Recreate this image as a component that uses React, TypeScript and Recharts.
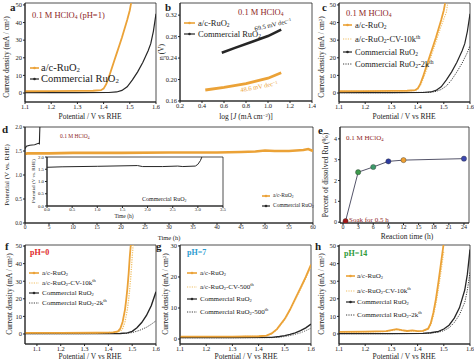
import React from 'react';
import { LineChart, Line, XAxis, YAxis, ReferenceArea } from 'recharts';

const SERIF = '"Liberation Serif", "DejaVu Serif", serif';
const ORANGE = '#EBA237';
const ORANGE_LT = '#F0C067';
const BLACK = '#262626';
const MAROON = '#8E2525';

// a / c : LSV in 0.1 M HClO4
const aOrgX = [1.1, 1.2, 1.3, 1.36, 1.39, 1.4, 1.41, 1.42, 1.43, 1.44, 1.45, 1.46, 1.47, 1.48, 1.49, 1.5, 1.505];
const aOrgY = [1.0, 1.1, 1.2, 1.3, 1.6, 2.5, 5, 9, 13.5, 18, 22.5, 27, 31.5, 36.5, 41.5, 47, 51];
const aComX = [1.1, 1.3, 1.42, 1.45, 1.47, 1.49, 1.51, 1.53, 1.55, 1.57, 1.58, 1.59, 1.6];
const aComY = [0.2, 0.2, 0.3, 0.6, 1.5, 3.5, 7.5, 12, 17.5, 24, 28, 35, 45];
const cCvX = [1.1, 1.3, 1.39, 1.4, 1.41, 1.42, 1.43, 1.44, 1.45, 1.46, 1.47, 1.48, 1.49, 1.5, 1.51, 1.515];
const cCvY = [1.0, 1.1, 1.4, 2, 4, 7.5, 11.5, 15.5, 20, 24.5, 29, 33.5, 38, 42, 46, 51];
const cCom2kX = [1.1, 1.3, 1.45, 1.47, 1.49, 1.51, 1.53, 1.55, 1.57, 1.59, 1.6];
const cCom2kY = [0.2, 0.2, 0.4, 0.9, 2, 4, 7.5, 12, 17, 23, 27];

// b : Tafel
const bOrgX = [0.43, 0.6, 0.8, 1.0, 1.12];
const bOrgY = [0.1805, 0.1855, 0.1925, 0.2025, 0.2125];
const bComX = [0.58, 0.7, 0.85, 1.0, 1.12];
const bComY = [0.25, 0.259, 0.27, 0.281, 0.293];

// d : chronopotentiometry
const dOrgT = [0, 0.5, 5, 10, 20, 30, 40, 45, 48, 50, 52, 55, 58, 59, 60];
const dOrgV = [1.44, 1.45, 1.45, 1.46, 1.46, 1.47, 1.47, 1.48, 1.49, 1.51, 1.5, 1.5, 1.52, 1.54, 1.5];
const dComT = [0, 0.3, 1, 2, 2.8, 3.0, 3.05, 3.1];
const dComV = [1.55, 1.6, 1.62, 1.63, 1.66, 1.65, 1.85, 2.0];
const insetT = [0, 0.3, 1, 1.8, 1.9, 2.3, 2.6, 2.7, 2.95, 3.0, 3.05, 3.08];
const insetV = [1.58, 1.6, 1.62, 1.65, 1.61, 1.61, 1.63, 1.61, 1.63, 1.7, 1.85, 2.0];

// e : dissolved Ru
const eTime = [0.5, 3, 6, 9, 12, 24];
const eRu = [0.05, 2.4, 2.65, 2.92, 2.98, 3.05];
const eDotColors = ['#A01818', '#3C9A4C', '#3C9A6A', '#2C3AA0', '#F0A030', '#3C48B0'];

// f : pH 0
const fOrgX = [1.05, 1.2, 1.35, 1.42, 1.44, 1.45, 1.46, 1.47, 1.475, 1.48, 1.485, 1.49, 1.495];
const fOrgY = [0.6, 0.6, 0.7, 0.9, 1.5, 3, 7, 14, 19.5, 26, 34, 44, 52];
const fCvX = [1.05, 1.2, 1.35, 1.43, 1.45, 1.46, 1.47, 1.48, 1.485, 1.49, 1.495, 1.5, 1.505];
const fCvY = [0.6, 0.6, 0.7, 0.9, 1.5, 3, 7, 14, 19.5, 26, 34, 44, 52];
const fComX = [1.05, 1.3, 1.45, 1.48, 1.5, 1.52, 1.54, 1.56, 1.58, 1.6];
const fComY = [0.2, 0.2, 0.3, 0.6, 1.5, 3.5, 6.5, 10.5, 16, 24];
const fCom2kX = [1.05, 1.3, 1.47, 1.5, 1.53, 1.56, 1.58, 1.6];
const fCom2kY = [0.2, 0.2, 0.3, 0.8, 2, 3.8, 5.5, 7.5];

// g : pH 7
const gX = [1.1, 1.2, 1.3, 1.4, 1.43, 1.45, 1.47, 1.5, 1.52, 1.54, 1.56, 1.58, 1.6];
const gOrgY = [0.8, 0.8, 0.8, 0.9, 1.1, 1.8, 3.2, 6.5, 9.5, 13, 16.5, 20, 24];
const gCvY = [0.8, 0.8, 0.8, 0.9, 1.1, 1.7, 3.0, 6.2, 9.2, 12.6, 16, 19.5, 23.2];
const gComX = [1.1, 1.3, 1.45, 1.48, 1.5, 1.52, 1.54, 1.56, 1.58, 1.6];
const gComY = [0.5, 0.5, 0.55, 0.8, 1.1, 1.5, 2.0, 2.7, 3.6, 4.8];
const gCom500Y = [0.4, 0.4, 0.45, 0.6, 0.8, 1.1, 1.5, 2.0, 2.7, 3.5];

// h : pH 14
const hOrgX = [1.1, 1.2, 1.28, 1.3, 1.32, 1.34, 1.36, 1.38, 1.4, 1.42, 1.44, 1.45, 1.46, 1.47, 1.48, 1.49, 1.5];
const hOrgY = [1.2, 1.3, 1.6, 2.2, 2.8, 2.2, 1.7, 2.0, 1.6, 1.8, 3, 6, 12, 20, 30, 41, 52];
const hCvY = [1.0, 1.1, 1.4, 1.9, 2.4, 1.9, 1.5, 1.7, 1.4, 1.6, 2.6, 5, 10, 17, 26, 36, 47];
const hComX = [1.1, 1.3, 1.42, 1.45, 1.48, 1.5, 1.52, 1.54, 1.56, 1.58, 1.59, 1.6];
const hComY = [0.2, 0.2, 0.3, 0.7, 1.5, 2.8, 5, 9, 15, 25, 34, 48];
const hCom2kY = [0.2, 0.2, 0.3, 0.5, 1.0, 1.9, 3.5, 6.5, 11, 18, 25, 35];

const potTicks = [1.1, 1.2, 1.3, 1.4, 1.5, 1.6];
const cdTicks50 = [0, 10, 20, 30, 40, 50];

const xy = (xs: number[], ys: number[]) => xs.map((x, i) => ({ x, y: ys[i] }));

type Series = { data: { x: number; y: number }[]; color: string; width?: number; dash?: string; dot?: any };

type PanelProps = {
  l: number; t: number; r: number; b: number;
  xDomain: [number, number]; yDomain: [number, number];
  xTicks: number[]; yTicks: number[];
  xFmt?: (v: number) => string; yFmt?: (v: number) => string;
  fs?: number; series: Series[];
};

function Panel(p: PanelProps) {
  const W = p.r - p.l + 34;
  const H = p.b - p.t + 24;
  const fs = p.fs ?? 6.5;
  const tick = { fontSize: fs, fill: '#222', fontFamily: SERIF };
  return (
    <div style={{ position: 'absolute', left: p.l - 30, top: p.t - 4 }}>
      <LineChart width={W} height={H} margin={{ top: 4, right: 4, left: 0, bottom: 0 }}>
        <XAxis type="number" dataKey="x" domain={p.xDomain} ticks={p.xTicks} allowDataOverflow height={20}
          interval={0} tick={tick} tickFormatter={p.xFmt} stroke="#222" tickSize={2} tickMargin={0} />
        <YAxis type="number" dataKey="y" domain={p.yDomain} ticks={p.yTicks} allowDataOverflow width={30}
          interval={0} tick={tick} tickFormatter={p.yFmt} stroke="#222" tickSize={2} tickMargin={1} />
        <ReferenceArea x1={p.xDomain[0]} x2={p.xDomain[1]} y1={p.yDomain[0]} y2={p.yDomain[1]}
          fill="none" stroke="#222" strokeWidth={0.8} fillOpacity={0} ifOverflow="visible" />
        {p.series.map((s, i) => (
          <Line key={i} data={s.data} dataKey="y" type="linear" stroke={s.color} strokeWidth={s.width ?? 1.2}
            strokeDasharray={s.dash} dot={s.dot ?? false} activeDot={false} isAnimationActive={false} />
        ))}
      </LineChart>
    </div>
  );
}

const T = ({ x, y, fs, color = '#222', bold, align = 'left', rot, children }: any) => {
  let transform = align === 'center' ? 'translate(-50%, -50%)' : 'translate(0, -50%)';
  if (rot !== undefined) transform = `translate(-50%, -50%) rotate(${rot}deg)`;
  return (
    <div style={{ position: 'absolute', left: x, top: y, fontSize: fs, color, fontWeight: bold ? 700 : 400,
      whiteSpace: 'nowrap', lineHeight: 1, transform, transformOrigin: 'center' }}>
      {children}
    </div>
  );
};

const Sub = ({ c }: { c: string }) => <sub style={{ fontSize: '0.65em', verticalAlign: '-0.25em', lineHeight: 0 }}>{c}</sub>;
const Sup = ({ c }: { c: string }) => <sup style={{ fontSize: '0.65em', verticalAlign: '0.45em', lineHeight: 0 }}>{c}</sup>;

const RuO2 = () => <>RuO<Sub c="2" /></>;
const HClO4 = () => <>0.1 M HClO<Sub c="4" /></>;

type Row = { y: number; color: string; dash?: string; w?: number; label: React.ReactNode };
const Legend = ({ x0, x1, tx, fs, rows }: { x0: number; x1: number; tx: number; fs: number; rows: Row[] }) => (
  <>
    {rows.map((r, i) => (
      <React.Fragment key={i}>
        <svg style={{ position: 'absolute', left: x0, top: r.y - 3 }} width={x1 - x0} height={6}>
          <line x1={0} y1={3} x2={x1 - x0} y2={3} stroke={r.color} strokeWidth={r.w ?? 1.2} strokeDasharray={r.dash} />
          {!r.dash && <circle cx={(x1 - x0) / 2} cy={3} r={1.3} fill={r.color} />}
        </svg>
        <T x={tx} y={r.y} fs={fs}>{r.label}</T>
      </React.Fragment>
    ))}
  </>
);

const dot1 = (v: number) => v.toFixed(1);
const dot2 = (v: number) => v.toFixed(2);
const int = (v: number) => String(v);

const CD = () => <>Current density (mA / cm<Sup c="2" />)</>;
const POT = 'Potential / V vs RHE';
const DOTS = '1.2 1.2';

export default function App() {
  return (
    <div style={{ position: 'absolute', left: 0, top: 0, width: 474, height: 363, background: '#fff', fontFamily: SERIF, color: '#222', overflow: 'hidden' }}>
      {/* a */}
      <Panel l={25} t={3} r={156} b={102} xDomain={[1.1, 1.6]} yDomain={[-5.1, 51.1]} xTicks={potTicks} yTicks={cdTicks50} xFmt={dot1}
        series={[
          { data: xy(aComX, aComY), color: BLACK, width: 1.2 },
          { data: xy(aOrgX, aOrgY), color: ORANGE, width: 1.8 },
        ]} />
      {/* b */}
      <Panel l={180} t={3} r={312} b={101} xDomain={[0.2, 1.4]} yDomain={[0.16, 0.3426]} xTicks={[0.2, 0.4, 0.6, 0.8, 1.0, 1.2, 1.4]}
        yTicks={[0.16, 0.2, 0.24, 0.28, 0.32]} xFmt={dot1} yFmt={dot2}
        series={[
          { data: xy(bComX, bComY), color: BLACK, width: 2.6 },
          { data: xy(bOrgX, bOrgY), color: ORANGE, width: 2.8 },
        ]} />
      {/* c */}
      <Panel l={339} t={3} r={470} b={102} xDomain={[1.1, 1.6]} yDomain={[-5.1, 51.1]} xTicks={potTicks} yTicks={cdTicks50} xFmt={dot1}
        series={[
          { data: xy(cCom2kX, cCom2kY), color: BLACK, width: 0.9, dash: DOTS },
          { data: xy(aComX, aComY), color: BLACK, width: 1.2 },
          { data: xy(cCvX, cCvY), color: ORANGE_LT, width: 1.1, dash: DOTS },
          { data: xy(aOrgX, aOrgY), color: ORANGE, width: 1.8 },
        ]} />
      {/* d */}
      <Panel l={25} t={127} r={313} b={223} xDomain={[0, 60]} yDomain={[0, 2.0]} fs={5.5}
        xTicks={[0, 5, 10, 15, 20, 25, 30, 35, 40, 45, 50, 55, 60]} yTicks={[0, 0.5, 1.0, 1.5, 2.0]} yFmt={dot1}
        series={[
          { data: xy(dOrgT, dOrgV), color: ORANGE, width: 2.6 },
          { data: xy(dComT, dComV), color: BLACK, width: 1.1 },
        ]} />
      <div style={{ position: 'absolute', left: 47, top: 157, width: 176, height: 49, background: '#fff' }} />
      <Panel l={47} t={157} r={223} b={206} xDomain={[0, 3.5]} yDomain={[0, 2.0]} fs={4.8}
        xTicks={[0, 0.5, 1.0, 1.5, 2.0, 2.5, 3.0, 3.5]} yTicks={[0, 0.5, 1.0, 1.5, 2.0]} xFmt={dot1} yFmt={dot1}
        series={[{ data: xy(insetT, insetV), color: BLACK, width: 1 }]} />
      {/* e */}
      <Panel l={340} t={127} r={469} b={223} xDomain={[-0.6, 25]} yDomain={[-0.04, 4.57]} fs={6}
        xTicks={[0, 3, 6, 9, 12, 15, 18, 21, 24]} yTicks={[0, 1, 2, 3, 4]} xFmt={int}
        series={[{
          data: xy(eTime, eRu), color: '#55556A', width: 1,
          dot: (d: any) => <circle key={d.index} cx={d.cx} cy={d.cy} r={2.6} fill={eDotColors[d.index]} stroke="#333" strokeWidth={0.4} />,
        }]} />
      {/* f */}
      <Panel l={25} t={245} r={156} b={344} xDomain={[1.05, 1.6]} yDomain={[-5.7, 50.6]} xTicks={potTicks} yTicks={cdTicks50} xFmt={dot1}
        series={[
          { data: xy(fCom2kX, fCom2kY), color: BLACK, width: 0.9, dash: DOTS },
          { data: xy(fComX, fComY), color: BLACK, width: 1.4 },
          { data: xy(fCvX, fCvY), color: ORANGE_LT, width: 1.3, dash: DOTS },
          { data: xy(fOrgX, fOrgY), color: ORANGE, width: 1.8 },
        ]} />
      {/* g */}
      <Panel l={180} t={245} r={311} b={344} xDomain={[1.1, 1.6]} yDomain={[-1.6, 30.3]} xTicks={potTicks} yTicks={[0, 10, 20, 30]} xFmt={dot1}
        series={[
          { data: xy(gComX, gCom500Y), color: '#444', width: 0.8, dash: DOTS },
          { data: xy(gComX, gComY), color: BLACK, width: 1.4 },
          { data: xy(gX, gCvY), color: ORANGE_LT, width: 1.1, dash: DOTS },
          { data: xy(gX, gOrgY), color: ORANGE, width: 1.8 },
        ]} />
      {/* h */}
      <Panel l={339} t={245} r={470} b={344} xDomain={[1.1, 1.6]} yDomain={[-5.7, 50.6]} xTicks={potTicks} yTicks={cdTicks50} xFmt={dot1}
        series={[
          { data: xy(hComX, hCom2kY), color: BLACK, width: 0.9, dash: DOTS },
          { data: xy(hComX, hComY), color: BLACK, width: 1.3 },
          { data: xy(hOrgX, hCvY), color: ORANGE_LT, width: 1.1, dash: DOTS },
          { data: xy(hOrgX, hOrgY), color: ORANGE, width: 1.8 },
        ]} />

      {/* panel letters */}
      <T x={10} y={7} fs={11} bold>a</T>
      <T x={165} y={7} fs={11} bold>b</T>
      <T x={322} y={7} fs={11} bold>c</T>
      <T x={2} y={129} fs={11} bold>d</T>
      <T x={318} y={130} fs={11} bold>e</T>
      <T x={5} y={246} fs={11} bold>f</T>
      <T x={156} y={246} fs={11} bold>g</T>
      <T x={315} y={246} fs={11} bold>h</T>

      {/* axis titles */}
      <T x={7} y={57} fs={7.5} rot={-90}><CD /></T>
      <T x={162} y={52} fs={7.5} rot={-90}>η (V)</T>
      <T x={322} y={57} fs={7.5} rot={-90}><CD /></T>
      <T x={7} y={175} fs={7} rot={-90}>Potential (V vs. RHE)</T>
      <T x={326} y={175} fs={7.5} rot={-90}>Percent of dissolved Ru (%)</T>
      <T x={10} y={294} fs={7.5} rot={-90}><CD /></T>
      <T x={166} y={294} fs={7.5} rot={-90}><CD /></T>
      <T x={322} y={294} fs={7.5} rot={-90}><CD /></T>
      <T x={33} y={181} fs={5} rot={-90}>Potential (V vs. RHE)</T>

      <T x={90} y={117} fs={7.5} align="center">{POT}</T>
      <T x={246} y={117} fs={7.5} align="center">log [<i>J</i> (mA cm<Sup c="−2" />)]</T>
      <T x={404} y={117} fs={7.5} align="center">{POT}</T>
      <T x={169} y={238} fs={6.5} align="center">Time (h)</T>
      <T x={124} y={217} fs={5.5} align="center">Time (h)</T>
      <T x={407} y={237} fs={7.5} align="center">Reaction time (h)</T>
      <T x={90} y={357} fs={7.5} align="center">{POT}</T>
      <T x={246} y={357} fs={7.5} align="center">{POT}</T>
      <T x={404} y={357} fs={7.5} align="center">{POT}</T>

      {/* annotations */}
      <T x={32} y={15} fs={8.5} color={MAROON}><HClO4 /> (pH=1)</T>
      <T x={238} y={12} fs={8.5} color={MAROON}><HClO4 /></T>
      <T x={346} y={13} fs={8.5} color={MAROON}><HClO4 /></T>
      <T x={60} y={137} fs={5.5} color={MAROON}><HClO4 /></T>
      <T x={346} y={138} fs={7} color={MAROON}><HClO4 /></T>
      <T x={349} y={220} fs={7} color={MAROON}>Soak for 0.5 h</T>
      <T x={142} y={199} fs={6}>Commercial <RuO2 /></T>
      <T x={30} y={253} fs={8} bold color="#E02828">pH=0</T>
      <T x={187} y={253} fs={8} bold color="#2A9BD0">pH=7</T>
      <T x={344} y={254} fs={8} bold color="#2E9A3A">pH=14</T>
      <T x={273} y={25} fs={6.5} rot={-13}>69.5 mV dec<Sup c="−1" /></T>
      <T x={259} y={87} fs={6.5} rot={-11} color={ORANGE}>48.6 mV dec<Sup c="−1" /></T>

      {/* legends */}
      <Legend x0={30} x1={39} tx={41} fs={10.5} rows={[
        { y: 68, color: ORANGE, w: 1.6, label: <>a/c-<RuO2 /></> },
        { y: 79, color: BLACK, label: <>Commercial <RuO2 /></> },
      ]} />
      <Legend x0={184} x1={195} tx={198} fs={8.5} rows={[
        { y: 23, color: ORANGE, w: 1.6, label: <>a/c-<RuO2 /></> },
        { y: 34, color: BLACK, label: <>Commercial <RuO2 /></> },
      ]} />
      <Legend x0={343} x1={352} tx={355} fs={8.5} rows={[
        { y: 25, color: ORANGE, w: 1.6, label: <>a/c-<RuO2 /></> },
        { y: 39, color: ORANGE_LT, dash: DOTS, label: <>a/c-<RuO2 />-CV-10k<Sup c="th" /></> },
        { y: 52, color: BLACK, label: <>Commercial <RuO2 /></> },
        { y: 64, color: BLACK, dash: DOTS, w: 0.9, label: <>Commercial <RuO2 />-2k<Sup c="th" /></> },
      ]} />
      <Legend x0={262} x1={270} tx={273} fs={5.5} rows={[
        { y: 196, color: ORANGE, w: 1.6, label: <>a/c-<RuO2 /></> },
        { y: 206, color: BLACK, label: <>Commercial <RuO2 /></> },
      ]} />
      <Legend x0={29} x1={39} tx={42} fs={7} rows={[
        { y: 273, color: ORANGE, w: 1.6, label: <>a/c-<RuO2 /></> },
        { y: 283, color: ORANGE_LT, dash: DOTS, label: <>a/c-<RuO2 />-CV-10k<Sup c="th" /></> },
        { y: 293, color: BLACK, label: <>Commercial <RuO2 /></> },
        { y: 303, color: BLACK, dash: DOTS, w: 0.9, label: <>Commercial <RuO2 />-2k<Sup c="th" /></> },
      ]} />
      <Legend x0={187} x1={197} tx={200} fs={7} rows={[
        { y: 273, color: ORANGE, w: 1.6, label: <>a/c-<RuO2 /></> },
        { y: 287, color: ORANGE_LT, dash: DOTS, label: <>a/c-<RuO2 />-CV-500<Sup c="th" /></> },
        { y: 299, color: BLACK, label: <>Commercial <RuO2 /></> },
        { y: 312, color: BLACK, dash: DOTS, w: 0.9, label: <>Commercial <RuO2 />-500<Sup c="th" /></> },
      ]} />
      <Legend x0={346} x1={355} tx={357} fs={7} rows={[
        { y: 276, color: ORANGE, w: 1.6, label: <>a/c-<RuO2 /></> },
        { y: 291, color: ORANGE_LT, dash: DOTS, label: <>a/c-<RuO2 />-CV-10k<Sup c="th" /></> },
        { y: 302, color: BLACK, label: <>Commercial <RuO2 /></> },
        { y: 315, color: BLACK, dash: DOTS, w: 0.9, label: <>Commercial <RuO2 />-2k<Sup c="th" /></> },
      ]} />
    </div>
  );
}
